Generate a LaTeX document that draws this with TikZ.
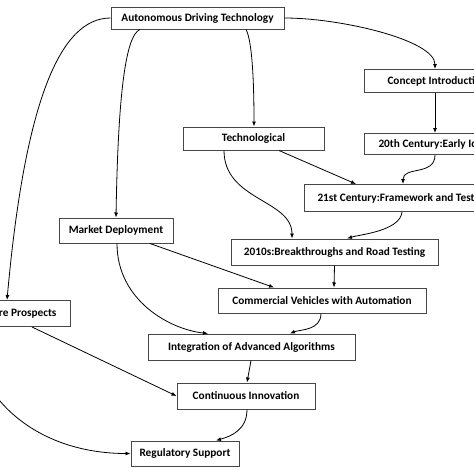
\documentclass[tikz,border=0pt]{standalone}
\usepackage{fontspec}
\setmainfont{Carlito}
\usetikzlibrary{arrows.meta}
\begin{document}
\begin{tikzpicture}[x=1pt,y=-1pt,
  box/.style={draw=black!72,line width=1pt,fill=white,font=\fontsize{11.3}{13}\selectfont\bfseries,inner sep=0pt,align=center},
  conn/.style={line width=0.8pt,-{Latex[length=5pt,width=4pt]}}]
\fill[white] (0,0) rectangle (474,474);
\useasboundingbox (0,0) rectangle (474,474);
% nodes
\node[box,minimum width=173pt,minimum height=22pt] (adt) at (197.5,18) {Autonomous Driving Technology};
\node[box,anchor=north west,inner xsep=23pt,minimum height=23pt] (ci) at (364,69) {Concept Introduction};
\node[box,minimum width=141pt,minimum height=23pt] (tech) at (253.5,138.5) {Technological};
\node[box,anchor=north west,inner xsep=14pt,minimum height=21pt] (c20) at (364,133) {20th Century:Early Ideas};
\node[box,anchor=north west,inner xsep=13pt,minimum height=27pt] (c21) at (304,184) {21st Century:Framework and Testing};
\node[box,minimum width=114pt,minimum height=25pt] (md) at (116,230.5) {Market Deployment};
\node[box,minimum width=207pt,minimum height=26pt] (s2010) at (334.5,252) {2010s:Breakthroughs and Road Testing};
\node[box,minimum width=208pt,minimum height=25pt] (cv) at (322,300.5) {Commercial Vehicles with Automation};
\node[box,anchor=north east,inner xsep=14pt,minimum height=26pt] (fp) at (71,300) {Future Prospects};
\node[box,minimum width=207pt,minimum height=26pt] (iaa) at (251.5,347) {Integration of Advanced Algorithms};
\node[box,minimum width=138pt,minimum height=26pt] (cinn) at (246,396) {Continuous Innovation};
\node[box,minimum width=108pt,minimum height=25pt] (rs) at (185,453.5) {Regulatory Support};
% connectors
\draw[conn] (adt.west) .. controls +(-50,0) and +(18,-200) .. ([xshift=-64pt]fp.north east);
\draw[conn] ([xshift=-57.5pt]adt.south) .. controls +(-15,6) and +(2,-118) .. (md.north);
\draw[conn] ([xshift=48.5pt]adt.south) .. controls +(6,11) and +(0,-47) .. ([xshift=0.5pt]tech.north);
\draw[conn] (adt.east) .. controls +(56,0) and +(0,-29) .. ([xshift=71pt]ci.north west);
\draw[conn] ([xshift=71pt]ci.south west) -- ([xshift=71pt]c20.north west);
\draw[conn] ([xshift=71pt]c20.south west) .. controls +(0,21) and +(0,-18) .. ([xshift=99pt]c21.north west);
\draw[conn] ([xshift=25.5pt]tech.south) -- ([xshift=52pt]c21.north west);
\draw[conn] ([xshift=-29.5pt]tech.south) .. controls +(0,50) and +(0,-39) .. ([xshift=-42.5pt]s2010.north);
\draw[conn] ([xshift=98pt]c21.south west) .. controls +(-2,19) and +(13,-4) .. ([xshift=12.5pt]s2010.north);
\draw[conn] ([xshift=34pt]md.south) -- ([xshift=-48pt]cv.north);
\draw[conn] ([xshift=1pt]md.south) .. controls +(0,57) and +(-38,-4) .. ([xshift=-43.5pt]iaa.north);
\draw[conn] (s2010.south) -- ([xshift=12pt]cv.north);
\draw[conn] ([xshift=-1pt]cv.south) .. controls +(0,17) and +(10,-4) .. ([xshift=38.5pt]iaa.north);
\draw[conn] ([xshift=-0.5pt]iaa.south) -- ([xshift=1pt]cinn.north);
\draw[conn] ([xshift=-39pt]fp.south east) -- (cinn.west);
\draw[conn] ([xshift=1pt]cinn.south) .. controls +(0,21) and +(14,-4) .. ([xshift=31pt]rs.north);
\draw[conn] ([xshift=-101pt]fp.south east) .. controls +(5,74) and +(-91,0) .. (rs.west);
\end{tikzpicture}
\end{document}
